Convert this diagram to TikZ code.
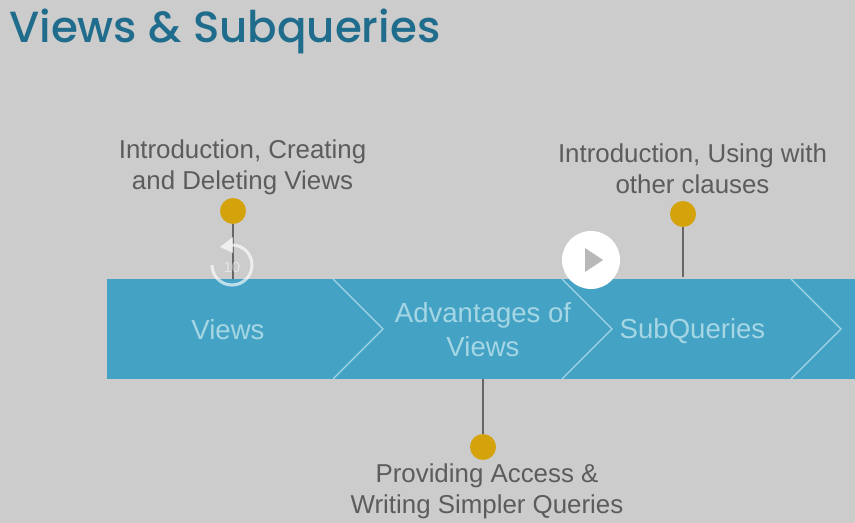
\documentclass[tikz,border=0pt]{standalone}
\usepackage{fontspec}
\setmainfont{Liberation Sans}
\newfontfamily\titlefont{Poppins Medium}
\definecolor{backg}{RGB}{204,204,204}
\definecolor{bandblue}{RGB}{68,162,197}
\definecolor{bandtext}{RGB}{165,214,228}
\definecolor{pingold}{RGB}{212,162,10}
\definecolor{labelgray}{RGB}{92,92,92}
\definecolor{titleblue}{RGB}{31,108,140}
\tikzset{
    pindot/.style = {circle, fill = pingold, minimum size = 0.65cm, inner sep = 0pt},
    pinline/.style = {draw = black!60, line width = 1.1pt},
    pinlabel/.style = {text = labelgray, align = center, font = \fontsize{18.4}{22.2}\selectfont},
    bandlabel/.style = {text = bandtext, align = center, font = \fontsize{19.6}{24}\selectfont},
    chevron/.style = {draw = bandtext, line width = 0.8pt}
}
\begin{document}
\begin{tikzpicture}[x=0.025cm, y=-0.025cm]
                        \useasboundingbox (0,0) rectangle (855,523);
                        \fill[backg] (0,0) rectangle (855,523);
                        \node[anchor = west, inner sep = 0pt, text = titleblue, font = \titlefont\fontsize{31}{36}\selectfont] (title) at (9,31) {Views \& Subqueries};
                        \fill[bandblue] (107,279) rectangle (855,379);
                        \coordinate (viewstop) at (233,279);
                        \coordinate (subtop) at (683,277);
                        \coordinate (advbottom) at (483,379);
                        \foreach \x in {333,562,791}
                            {\draw[chevron] (\x,279) -- ++(50,50) -- ++(-50,50);}
                        \node[bandlabel] (views) at (228,330) {Views};
                        \node[bandlabel] (advantages) at (483,330) {Advantages of\\Views};
                        \node[bandlabel] (subqueries) at (692.5,331) {SubQueries};
                        \node[pindot] (dotviews) at (233,211) {};
                        \node[pindot] (dotsub) at (683,214) {};
                        \node[pindot] (dotadv) at (483,447) {};
                        \draw[pinline] (dotviews) -- (viewstop);
                        \draw[pinline] (dotsub) -- (subtop);
                        \draw[pinline] (advbottom) -- (dotadv);
                        \node[pinlabel] (labelviews) at (242.5,167.5) {Introduction, Creating\\and Deleting Views};
                        \node[pinlabel] (labelsub) at (692.5,168.7) {Introduction, Using with\\other clauses};
                        \node[pinlabel] (labeladv) at (487,491) {Providing Access \&\\Writing Simpler Queries};
                        % player controls
                        \draw[white, opacity = 0.65, line width = 2.2pt] (212,265) arc (180:-90:20);
                        \fill[white, opacity = 0.7] (233,237) -- (233,253) -- (220,247) -- cycle;
                        \node[text = white, opacity = 0.5, inner sep = 0pt, font = \fontsize{10.5}{10.5}\selectfont] (replay) at (232,267) {10};
                        \node[circle, fill = white, minimum size = 1.45cm, inner sep = 0pt] (playbutton) at (591,260) {};
                        \fill[backg!90!black] (585,248) -- (603,260) -- (585,272) -- cycle;
                    \end{tikzpicture}
\end{document}
